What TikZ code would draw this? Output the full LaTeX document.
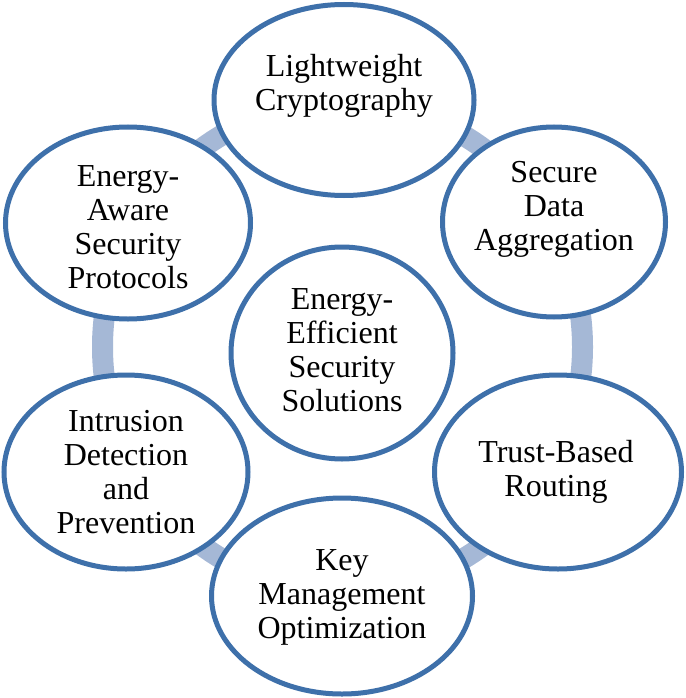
\documentclass[tikz,border=0pt]{standalone}
\usepackage{fontspec}
\newfontfamily\tnr{LiberationSerif}[Extension=.ttf, UprightFont=*-Regular]
\usetikzlibrary{shapes.geometric}
\definecolor{bubblue}{RGB}{62,112,170}
\definecolor{ringblue}{RGB}{165,184,214}
\tikzset{
  bubble/.style={ellipse, draw=bubblue, line width=5pt, fill=white, inner sep=0pt, outer sep=0pt},
  txt/.style={align=center, inner sep=0pt, font=\tnr\fontsize{32}{34}\selectfont, text=black},
}
\begin{document}
\begin{tikzpicture}[x=1pt,y=-1pt]
\useasboundingbox (0,0) rectangle (685,698);
\fill[white] (0,0) rectangle (685,698);
% ring
\coordinate (rc) at (342.5,347);
\draw[ringblue, line width=21pt] (rc) ellipse [x radius=240pt, y radius=245pt];
% bubbles
\node[bubble, minimum width=260pt, minimum height=191pt] (lc) at (344,100) {};
\node[bubble, minimum width=223pt, minimum height=190pt] (sd) at (554,222) {};
\node[bubble, minimum width=247pt, minimum height=194pt] (tb) at (558,472) {};
\node[bubble, minimum width=261pt, minimum height=196pt] (km) at (342,596) {};
\node[bubble, minimum width=244pt, minimum height=194pt] (id) at (126,472) {};
\node[bubble, minimum width=245pt, minimum height=192pt] (ea) at (128,223) {};
\node[bubble, minimum width=222pt, minimum height=212pt] (ce) at (342,353) {};
% texts
\node[txt] (lct) at (344,86) {Lightweight\\Cryptography};
\node[txt] (sdt) at (554,209) {Secure\\Data\\Aggregation};
\node[txt] (tbt) at (556,472) {Trust-Based\\Routing};
\node[txt] (kmt) at (342,597) {Key\\Management\\Optimization};
\node[txt] (idt) at (126,472) {Intrusion\\Detection\\and\\Prevention};
\node[txt] (eat) at (128,227) {Energy-\\Aware\\Security\\Protocols};
\node[txt] (cet) at (342,350) {Energy-\\Efficient\\Security\\Solutions};
\end{tikzpicture}
\end{document}
